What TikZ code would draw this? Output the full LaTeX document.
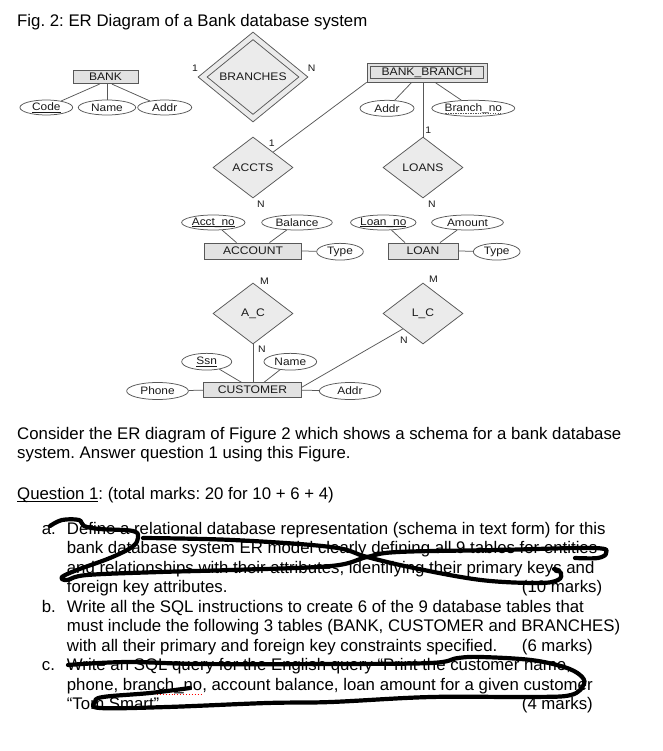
\documentclass[tikz,border=0pt]{standalone}
\usepackage{fontspec}
\setmainfont{Liberation Sans}
\newfontfamily\erfont[FakeStretch=1.1]{Liberation Sans}
\newcommand\myul[3]{\setbox0\hbox{#3}\rlap{\rule[-#1]{\wd0}{#2}}\box0}
\newcommand\mydul[1]{\setbox0\hbox{#1}\rlap{\raisebox{-2.2pt}{\hbox to \wd0{\color{lc}\xleaders\hbox to 2.4pt{\hss\rule{1.4pt}{0.6pt}\hss}\hfill}}}\box0}
\usetikzlibrary{shapes.geometric,backgrounds}
\definecolor{lc}{HTML}{585858}
\definecolor{entfill}{HTML}{E2E2E2}
\definecolor{diafill}{HTML}{EBEBEB}
\definecolor{ertext}{HTML}{1A1A1A}
\frenchspacing
\begin{document}
\begin{tikzpicture}[x=1pt,y=-1pt,
  ln/.style={draw=lc, line width=0.75pt},
  dbl/.style={draw=lc, line width=0.65pt, double=white, double distance=1.4pt},
  ent/.style={rectangle, draw=lc, fill=entfill, line width=0.75pt, inner sep=0pt, text=ertext, font=\erfont\fontsize{11}{11}\selectfont},
  rel/.style={diamond, aspect=1.3, draw=lc, fill=diafill, line width=0.75pt, inner sep=0pt, text=ertext, font=\erfont\fontsize{11}{11}\selectfont},
  attr/.style={ellipse, draw=lc, fill=white, line width=0.75pt, inner sep=0pt, text=ertext, font=\erfont\fontsize{10.8}{11}\selectfont},
  card/.style={inner sep=0pt, text=ertext, font=\erfont\fontsize{9.5}{10}\selectfont},
  txt/.style={anchor=base west, inner sep=0pt, font=\fontsize{16.8}{19.5}\selectfont},
  scrib/.style={line width=4.2pt, line cap=round, line join=round, black}
]
\useasboundingbox (0,0) rectangle (662,751);

\node[txt] (title) at (17,27) {Fig. 2: ER Diagram of a Bank database system};

% entities and relationships
\node[ent, minimum width=65pt, minimum height=13.5pt] (bank) at (105.5,77) {BANK};
\node[rel, minimum width=110pt, minimum height=90pt] (brO) at (253,77) {};
\node[rel, minimum width=92pt, minimum height=75pt] (brI) at (253,77) {BRANCHES};
\node[ent, minimum width=120pt, minimum height=19pt] (bbo) at (427,72.5) {};
\node[ent, minimum width=113pt, minimum height=12.5pt] (bb) at (427,72.5) {BANK\_BRANCH};

\node[attr, minimum width=52.7pt, minimum height=15pt] (code) at (46.3,107.5) {\myul{1.8pt}{0.5pt}{Code}};
\node[attr, minimum width=57.4pt, minimum height=15pt] (name1) at (107,107.5) {Name};
\node[attr, minimum width=54pt, minimum height=15pt] (addr1) at (164.7,107.5) {Addr};
\node[attr, minimum width=54pt, minimum height=16pt] (addr2) at (387,108.3) {Addr};
\node[attr, minimum width=83pt, minimum height=16pt] (bno) at (473.3,108.3) {\mydul{Branch\_no}};

\node[rel, minimum width=80pt, minimum height=61pt] (accts) at (253,167.5) {ACCTS};
\node[rel, minimum width=80pt, minimum height=61pt] (loans) at (423,167.5) {LOANS};

\node[ent, minimum width=97pt, minimum height=16pt] (acct) at (253,251) {ACCOUNT};
\node[attr, minimum width=63.3pt, minimum height=15pt] (acctno) at (213.3,222.5) {\myul{1.8pt}{0.5pt}{Acct\_no}};
\node[attr, minimum width=70.6pt, minimum height=15pt] (balance) at (297,222.5) {Balance};
\node[attr, minimum width=46.6pt, minimum height=16.7pt] (type1) at (340,251.7) {Type};

\node[ent, minimum width=70pt, minimum height=16pt] (loan) at (423,251) {LOAN};
\node[attr, minimum width=63.3pt, minimum height=15pt] (loanno) at (383.3,222.5) {\myul{1.8pt}{0.5pt}{Loan\_no}};
\node[attr, minimum width=71.7pt, minimum height=15pt] (amount) at (467.5,222.5) {Amount};
\node[attr, minimum width=46.7pt, minimum height=16.7pt] (type2) at (496.7,251.7) {Type};

\node[rel, minimum width=80pt, minimum height=61pt] (ac) at (253,313.5) {A\_C};
\node[rel, minimum width=80pt, minimum height=61pt] (lc) at (423,313.5) {L\_C};

\node[ent, minimum width=98pt, minimum height=15pt] (cust) at (252.5,390.2) {CUSTOMER};
\node[attr, minimum width=50pt, minimum height=16.7pt] (ssn) at (206.7,361.7) {\myul{1.8pt}{0.5pt}{Ssn}};
\node[attr, minimum width=52.7pt, minimum height=16.7pt] (name2) at (290.3,361.7) {Name};
\node[attr, minimum width=61.7pt, minimum height=17pt] (phone) at (157.5,391) {Phone};
\node[attr, minimum width=61.4pt, minimum height=17pt] (addr3) at (350,391) {Addr};

% cardinalities
\node[card] (k1) at (195,68.3) {1};
\node[card] (k2) at (311.7,68.3) {N};
\node[card] (k3) at (271.7,143.3) {1};
\node[card] (k4) at (428.3,130) {1};
\node[card] (k5) at (261,204) {N};
\node[card] (k6) at (432,204) {N};
\node[card] (k7) at (264.5,281) {M};
\node[card] (k8) at (433.5,279.5) {M};
\node[card] (k9) at (262,349.5) {N};
\node[card] (k10) at (404,340) {N};

\begin{scope}[on background layer]
\fill[white] (0,0) rectangle (662,751);
\draw[dbl] (bank.east) -- (brO.west);
\draw[dbl] (brO.east) -- (brO.east -| bbo.west);
\draw[ln] ([xshift=-6pt]bank.south) -- (code);
\draw[ln] (name1.north |- bank.south) -- (name1.north);
\draw[ln] ([xshift=6.5pt]bank.south) -- (addr1);
\draw[ln] ([xshift=-15.3pt]bbo.south) -- (addr2);
\draw[ln] ([xshift=8pt]bbo.south) -- (bno);
\draw[ln] (loans.north |- bbo.south) -- (loans.north);
\draw[ln] (bbo.south west) -- (accts.north east);
\draw[dbl] (accts.south) -- (acct.north);
\draw[ln] ([xshift=-16.5pt]acct.north) -- (acctno);
\draw[ln] ([xshift=16.5pt]acct.north) -- (balance);
\draw[ln] (acct.east) -- (type1);
\draw[dbl] (acct.south) -- (ac.north);
\draw[ln] (ac.south) -- (ac.south |- cust.north);
\draw[ln] ([xshift=-11pt]cust.north) -- (ssn);
\draw[ln] ([xshift=11.5pt]cust.north) -- (name2);
\draw[ln] (cust.west) -- (phone);
\draw[ln] (cust.east) -- (addr3);
\draw[ln] ([yshift=3pt]cust.east) -- (lc.south west);
\draw[dbl] (loans.south) -- (loan.north);
\draw[ln] ([xshift=-18pt]loan.north) -- (loanno);
\draw[ln] ([xshift=17pt]loan.north) -- (amount);
\draw[ln] (loan.east) -- (type2);
\draw[dbl] (loan.south) -- (lc.north);
\end{scope}

% body text
\node[txt] (l1) at (17,439) {Consider the ER diagram of Figure 2 which shows a schema for a bank database};
\node[txt] (l2) at (17,458.5) {system. Answer question 1 using this Figure.};
\node[txt] (q1) at (17,499) {\myul{3pt}{0.9pt}{Question 1}: (total marks: 20 for 10 + 6 + 4)};

\node[txt] (la) at (41.7,534) {a.};
\node[txt] (a1) at (66.7,534) {Define a relational database representation (schema in text form) for this};
\node[txt] (a2) at (66.7,553.5) {bank database system ER model clearly defining all 9 tables for entities};
\node[txt] (a3) at (66.7,573) {and relationships with their attributes, identifying their primary keys and};
\node[txt] (a4) at (66.7,592.5) {foreign key attributes.};
\node[txt] (am) at (521.7,592.5) {(10 marks)};
\node[txt] (lb) at (41.7,612) {b.};
\node[txt] (b1) at (66.7,612) {Write all the SQL instructions to create 6 of the 9 database tables that};
\node[txt] (b2) at (66.7,631.5) {must include the following 3 tables (BANK, CUSTOMER and BRANCHES)};
\node[txt] (b3) at (66.7,651) {with all their primary and foreign key constraints specified.};
\node[txt] (bm) at (521.7,651) {(6 marks)};
\node[txt] (lcc) at (41.7,670.5) {c.};
\node[txt] (c1) at (66.7,670.5) {Write an SQL query for the English query “Print the customer name,};
\node[txt] (c2) at (66.7,690) {phone, branch\_no, account balance, loan amount for a given customer};
\node[txt] (c3) at (66.7,709.5) {“Tom Smart”.};
\node[txt] (cm) at (521.7,709.5) {(4 marks)};

\draw[red, dotted, line width=0.9pt] (123,694.5) -- (147,694.5) (157,694.5) -- (203,694.5);

% scribbles
\draw[scrib] plot[smooth, tension=0.6] coordinates {(50,526) (62,520) (79,520) (84,526) (100,529) (133,531) (138,538) (132,547) (110,558) (77,570) (62,577) (67,580) (87,575) (160,572) (231,570) (331,566) (367,557) (398,552) (498,550) (594,548) (606,553) (598,558) (575,558)};
\draw[scrib] plot[smooth, tension=0.6] coordinates {(143,538) (233,540) (331,547) (367,557) (414,568) (481,580) (538,583) (558,580) (561,573) (554,569)};
\draw[scrib] plot[smooth, tension=0.6] coordinates {(68,665) (127,662) (200,664) (331,664) (431,663) (458,658) (481,657) (531,660) (564,667) (580,675) (584,684) (571,695) (531,697) (431,697) (331,702) (267,703) (167,707) (100,708) (95,702) (103,697) (150,693) (190,688)};
\end{tikzpicture}
\end{document}
